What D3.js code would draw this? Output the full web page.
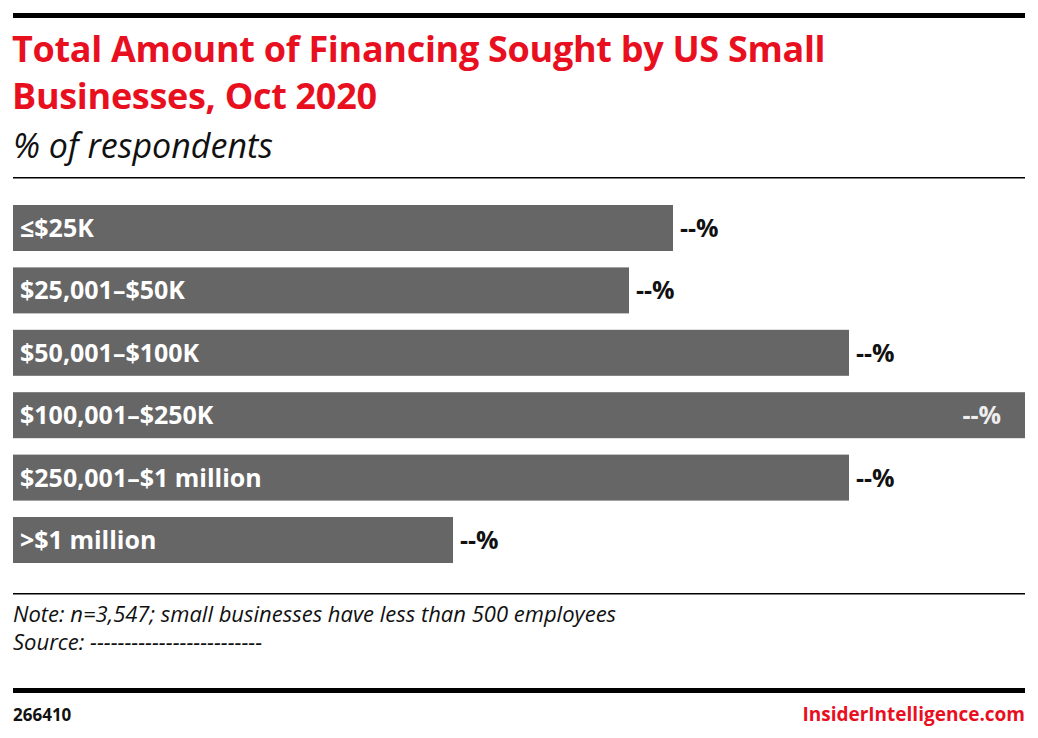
<!DOCTYPE html>
<html><head><meta charset="utf-8">
<script src="https://cdn.jsdelivr.net/npm/d3@7"></script>
<style>body{margin:0;background:#fff;font-family:"Open Sans",sans-serif}</style>
</head><body><svg id="c" width="1038" height="738"></svg>
<script>
const categories = ["≤$25K","$25,001–$50K","$50,001–$100K","$100,001–$250K","$250,001–$1 million",">$1 million"];
const values = [15.0, 14.0, 19.0, 23.0, 19.0, 10.0];
const valueLabels = ["--%","--%","--%","--%","--%","--%"];

const F = "'Open Sans', sans-serif";
const svg = d3.select("#c");
svg.append("rect").attr("x",13).attr("y",13).attr("width",1012).attr("height",5).attr("fill","#000");
const t = svg.append("text").attr("fill","#e8101f").attr("font-size",36).attr("font-weight",700).attr("font-family",F).attr("letter-spacing",-0.3);
t.append("tspan").attr("x",12).attr("y",62).text("Total Amount of Financing Sought by US Small");
t.append("tspan").attr("x",12).attr("y",109).text("Businesses, Oct 2020");
svg.append("text").attr("x",13).attr("y",158).attr("font-size",34).attr("font-style","italic").attr("font-family",F).attr("fill","#111").text("% of respondents");
svg.append("rect").attr("x",13).attr("y",177).attr("width",1012).attr("height",1.5).attr("fill","#000");

const x = d3.scaleLinear().domain([0, d3.max(values)]).range([13, 1025]);
const y = d3.scaleBand().domain(categories).range([205, 563]).paddingInner(0.263).paddingOuter(0);
const g = svg.append("g");
categories.forEach((c,i)=>{
  g.append("rect").attr("x",x(0)).attr("y",y(c)).attr("width",x(values[i])-x(0)).attr("height",y.bandwidth()).attr("fill","#666");
  g.append("text").attr("x",x(0)+7).attr("y",y(c)+y.bandwidth()/2+9).attr("fill","#fff").attr("font-size",25).attr("font-weight",700).attr("font-family",F).text(c);
  const inside = x(values[i]) > 980;
  g.append("text").attr("x", inside ? x(values[i])-24 : x(values[i])+7).attr("text-anchor", inside?"end":"start")
   .attr("y",y(c)+y.bandwidth()/2+9).attr("fill", inside?"#eee":"#111").attr("font-size",25).attr("font-weight",700).attr("font-family",F).text(valueLabels[i]);
});
svg.append("rect").attr("x",13).attr("y",593).attr("width",1012).attr("height",1.5).attr("fill","#000");
svg.append("text").attr("x",13).attr("y",622).attr("font-size",22).attr("font-style","italic").attr("font-family",F).attr("fill","#111").text("Note: n=3,547; small businesses have less than 500 employees");
svg.append("text").attr("x",13).attr("y",650).attr("font-size",22).attr("font-style","italic").attr("font-family",F).attr("fill","#111").text("Source: -------------------------");
svg.append("rect").attr("x",13).attr("y",688).attr("width",1012).attr("height",5).attr("fill","#000");
svg.append("text").attr("x",13).attr("y",721).attr("font-size",17).attr("font-weight",700).attr("font-family",F).attr("fill","#111").text("266410");
svg.append("text").attr("x",1025).attr("y",721).attr("text-anchor","end").attr("font-size",19).attr("font-weight",700).attr("font-family",F).attr("fill","#e8101f").text("InsiderIntelligence.com");
</script></body></html>
